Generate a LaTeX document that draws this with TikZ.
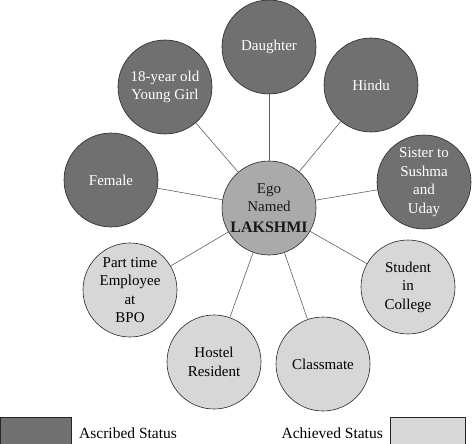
\documentclass[tikz,border=0pt]{standalone}
\usepackage{fontspec}
\setmainfont{Liberation Serif}
\definecolor{darkfill}{RGB}{112,112,112}
\definecolor{lightfill}{RGB}{215,215,215}
\definecolor{egofill}{RGB}{170,170,170}
\definecolor{linkgray}{RGB}{95,95,95}
\begin{document}
\begin{tikzpicture}[x=1pt,y=-1pt,
  statusbase/.style={circle,minimum size=94pt,inner sep=0pt,draw=black!85,line width=0.6pt,
    align=center,font=\fontsize{15}{18.5}\selectfont},
  ascribed/.style={statusbase,fill=darkfill,text=white},
  achieved/.style={statusbase,fill=lightfill,text=black},
  egonode/.style={statusbase,fill=egofill,text=black!90},
  link/.style={draw=linkgray,line width=0.6pt},
  legendbox/.style={draw=black!85,line width=0.8pt},
  legendtext/.style={font=\fontsize{15.5}{18}\selectfont,inner sep=0pt}]
\useasboundingbox (0,0) rectangle (474,444);
\node[egonode] (ego) at (269,208) {Ego\\Named\\[2pt]{\fontsize{16}{18}\selectfont\bfseries LAKSHMI}};
\node[ascribed] (daughter) at (269,47) {Daughter};
\node[ascribed] (girl) at (165,87) {18-year old\\Young Girl};
\node[ascribed] (hindu) at (371,85) {Hindu};
\node[ascribed] (female) at (111,180) {Female};
\node[ascribed] (sister) at (424,182) {Sister to\\Sushma\\and\\Uday};
\node[achieved] (bpo) at (130,290) {Part time\\Employee\\at\\BPO};
\node[achieved] (student) at (408,287) {Student\\in\\College};
\node[achieved] (hostel) at (214,362) {Hostel\\Resident};
\node[achieved] (classmate) at (323,364) {Classmate};
\foreach \n in {daughter,girl,hindu,female,sister,bpo,student,hostel,classmate}
  \draw[link] (ego) -- (\n);
\draw[legendbox,fill=darkfill] (0,417) rectangle (71,446);
\node[legendtext,anchor=west] (asc) at (79,433) {Ascribed Status};
\draw[legendbox,fill=lightfill] (390,417) rectangle (465,446);
\node[legendtext,anchor=east] (ach) at (383,433) {Achieved Status};
\end{tikzpicture}
\end{document}
